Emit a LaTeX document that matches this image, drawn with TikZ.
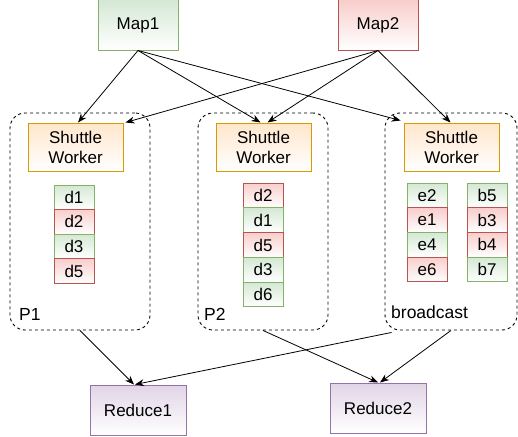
\documentclass[tikz,border=0pt]{standalone}
\usepackage{fontspec}
\setmainfont{Liberation Sans}
\usetikzlibrary{arrows.meta,calc}
\definecolor{gfill}{HTML}{D5E8D4}\definecolor{gline}{HTML}{82B366}
\definecolor{rfill}{HTML}{F8CECC}\definecolor{rline}{HTML}{B85450}
\definecolor{ofill}{HTML}{FFE6CC}\definecolor{oline}{HTML}{D79B00}
\definecolor{pfill}{HTML}{E1D5E7}\definecolor{pline}{HTML}{9673A6}
\tikzset{
  box/.style={draw, line width=1pt, inner sep=0pt, align=center, font=\fontsize{17}{19}\selectfont},
  gbox/.style={box, draw=gline, top color=gfill, bottom color=white},
  rbox/.style={box, draw=rline, top color=rfill, bottom color=white},
  obox/.style={box, draw=oline, top color=ofill, bottom color=white, minimum width=95pt, minimum height=48pt},
  pbox/.style={box, draw=pline, top color=pfill, bottom color=white, minimum width=96pt, minimum height=50pt},
  mapbox/.style={minimum width=80pt, minimum height=50pt},
  cell/.style={minimum width=40pt, minimum height=24.6pt},
  grp/.style={draw, dashed, dash pattern=on 3pt off 3pt, line width=0.9pt, rounded corners=15pt, minimum height=217pt, inner sep=0pt},
  lbl/.style={anchor=west, inner sep=0pt, font=\fontsize{17.5}{19}\selectfont},
  arr/.style={-{Stealth[length=9pt,width=7pt]}, line width=0.8pt},
}
\begin{document}
\begin{tikzpicture}[x=1pt,y=-1pt]
\useasboundingbox (0,0) rectangle (518,436);
% groups
\node[grp, minimum width=140pt] (c1) at (80,221.5) {};
\node[grp, minimum width=130pt] (c2) at (263,221.5) {};
\node[grp, minimum width=132pt] (c3) at (451,221.5) {};
% maps
\node[gbox, mapbox] (map1) at (138,25) {Map1};
\node[rbox, mapbox] (map2) at (378,25) {Map2};
% shuttle workers
\node[obox] (sw1) at (75.5,147) {Shuttle\\[1pt]Worker};
\node[obox] (sw2) at (263.5,147) {Shuttle\\[1pt]Worker};
\node[obox] (sw3) at (451.5,147) {Shuttle\\[1pt]Worker};
% P1 cells
\node[gbox, cell] (a1) at (74,197.3) {d1};
\node[rbox, cell] (a2) at (74,221.9) {d2};
\node[gbox, cell] (a3) at (74,246.5) {d3};
\node[rbox, cell] (a4) at (74,271.1) {d5};
% P2 cells
\node[rbox, cell] (b1) at (263,195.4) {d2};
\node[gbox, cell] (b2) at (263,220.2) {d1};
\node[rbox, cell] (b3) at (263,245.0) {d5};
\node[gbox, cell] (b4) at (263,269.8) {d3};
\node[gbox, cell] (b5) at (263,294.6) {d6};
% broadcast cells
\node[gbox, cell] (e1) at (427,195.4) {e2};
\node[rbox, cell] (e2) at (427,220.1) {e1};
\node[gbox, cell] (e3) at (427,244.8) {e4};
\node[rbox, cell] (e4) at (427,269.5) {e6};
\node[gbox, cell] (f1) at (487,195.4) {b5};
\node[rbox, cell] (f2) at (487,220.1) {b3};
\node[rbox, cell] (f3) at (487,244.8) {b4};
\node[gbox, cell] (f4) at (487,269.5) {b7};
% labels
\node[lbl] (l1) at (19,314) {P1};
\node[lbl] (l2) at (204,314) {P2};
\node[lbl] (l3) at (391,312) {broadcast};
% reduces
\node[pbox] (r1) at (138,410) {Reduce1};
\node[pbox] (r2) at (378,408) {Reduce2};
% arrows top
\draw[arr] (map1.south) -- ($(sw1.north)+(2.5,0)$);
\draw[arr] (map1.south) -- ($(sw2.north)+(-3,0)$);
\draw[arr] (map1.south) -- ($(sw3.north west)+(-3,-2)$);
\draw[arr] (map2.south) -- ($(sw1.north east)+(2,0)$);
\draw[arr] (map2.south) -- ($(sw2.north)+(4,0)$);
\draw[arr] (map2.south) -- ($(sw3.north)+(-1,0)$);
% arrows bottom
\draw[arr] (c1.south) -- ($(r1.north)+(-4,0)$);
\draw[arr] (c2.south) -- (r2.north);
\draw[arr] ($(c3.south west)+(7,2)$) -- ($(r1.north)+(-3,0)$);
\draw[arr] (c3.south) -- ($(r2.north)+(2,0)$);
\end{tikzpicture}
\end{document}
